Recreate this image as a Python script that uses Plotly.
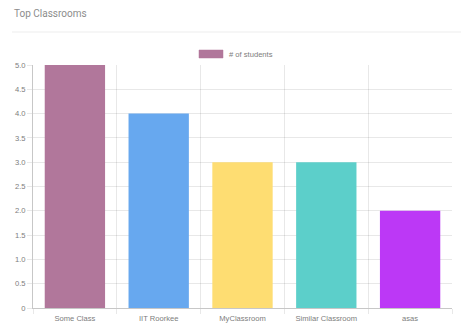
import plotly.graph_objects as go

# Chart data
classrooms = ["Some Class", "IIT Roorkee", "MyClassroom", "Similar Classroom", "asas"]
students = [5, 4, 3, 3, 2]
bar_colors = ["#b1779b", "#67a8ef", "#fedd72", "#5ccfca", "#bc38f6"]
series_name = "# of students"
y_tick_vals = [0, 0.5, 1, 1.5, 2, 2.5, 3, 3.5, 4, 4.5, 5]
y_tick_text = ["0", "0.5", "1.0", "1.5", "2.0", "2.5", "3.0", "3.5", "4.0", "4.5", "5.0"]

W, H = 474, 335
M_L, M_R, M_T, M_B = 33, 22, 65, 27
plot_w = W - M_L - M_R
plot_h = H - M_T - M_B


def px_x(x):
    return (x - M_L) / plot_w


def px_y(y):
    return (H - M_B - y) / plot_h


font_family = "Liberation Sans, Arial, sans-serif"
text_color = "#7d7d7d"
grid_color = "rgba(0,0,0,0.09)"
axis_color = "rgba(0,0,0,0.22)"

fig = go.Figure(
    go.Bar(
        x=classrooms,
        y=students,
        name=series_name,
        marker=dict(color=bar_colors, line=dict(width=0)),
        width=0.72,
        showlegend=False,
        hoverinfo="x+y",
    )
)

fig.update_layout(
    width=W,
    height=H,
    margin=dict(l=M_L, r=M_R, t=M_T, b=M_B, pad=0),
    paper_bgcolor="white",
    plot_bgcolor="white",
    font=dict(family=font_family, size=7.6, color=text_color),
    xaxis=dict(
        type="category",
        tickson="boundaries",
        showgrid=True,
        gridcolor=grid_color,
        gridwidth=1,
        ticks="outside",
        ticklen=5,
        tickcolor=grid_color,
        showline=True,
        linecolor=axis_color,
        linewidth=1,
        ticklabelstandoff=3,
        tickfont=dict(size=7.6, color=text_color),
        fixedrange=True,
    ),
    yaxis=dict(
        range=[0, 5],
        tickvals=y_tick_vals,
        ticktext=y_tick_text,
        showgrid=True,
        gridcolor=grid_color,
        gridwidth=1,
        zeroline=False,
        ticks="outside",
        ticklen=5,
        tickcolor=grid_color,
        showline=True,
        linecolor=axis_color,
        linewidth=1,
        tickfont=dict(size=7.6, color=text_color),
        fixedrange=True,
    ),
    shapes=[
        # separator under the card header
        dict(
            type="line", xref="paper", yref="paper",
            x0=px_x(12), x1=px_x(461), y0=px_y(32), y1=px_y(32),
            line=dict(color="rgba(0,0,0,0.07)", width=1),
        ),
        # legend swatch
        dict(
            type="rect", xref="paper", yref="paper",
            x0=px_x(199), x1=px_x(223), y0=px_y(58), y1=px_y(50),
            fillcolor=bar_colors[0], line=dict(color=bar_colors[0], width=0.5),
        ),
    ],
    annotations=[
        dict(
            text="Top Classrooms", xref="paper", yref="paper",
            x=px_x(12), y=px_y(14), xanchor="left", yanchor="middle",
            showarrow=False,
            font=dict(family="Roboto, Liberation Sans, sans-serif", size=10, color="#8c8c8c"),
        ),
        dict(
            text=series_name, xref="paper", yref="paper",
            x=px_x(227), y=px_y(54), xanchor="left", yanchor="middle",
            showarrow=False,
            font=dict(size=7.6, color=text_color),
        ),
    ],
)

fig.write_html("out.html")
